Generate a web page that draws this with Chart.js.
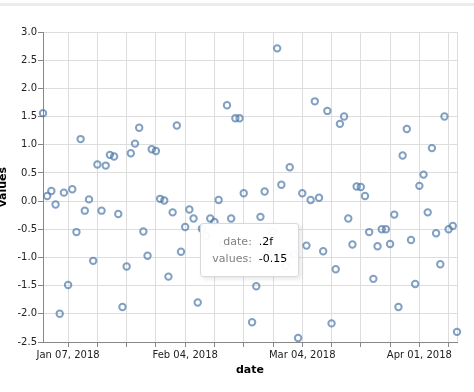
<!DOCTYPE html>
<html>
<head>
<meta charset="utf-8">
<script src="https://cdn.jsdelivr.net/npm/chart.js@4.4.1/dist/chart.umd.min.js"></script>
<style>
  html, body { margin: 0; padding: 0; background: #fff; overflow: hidden; }
  #wrap { position: relative; width: 474px; height: 392px; }
  #topbar { position: absolute; left: 0; top: 3px; width: 474px; height: 3px; background: #ececec; }
  #chart { position: absolute; left: 0; top: 0; }
  #tip {
    display: none; position: absolute; padding: 8px;
    font-family: 'DejaVu Sans', sans-serif; font-size: 11px;
    border-radius: 3px; box-shadow: 2px 2px 4px rgba(0,0,0,0.1);
    background-color: rgba(255,255,255,0.95); border: 1px solid #d9d9d9; color: #000;
  }
  #tip table { border-spacing: 2px; }
  #tip td.key { color: #808080; text-align: right; padding: 1px 4px 1px 1px; }
  #tip td.value { padding: 1px; }
</style>
</head>
<body>
<div id="wrap">
  <div id="topbar"></div>
  <canvas id="chart" width="474" height="392"></canvas>
  <div id="tip"></div>
</div>
<script>
// one value per day, starting Jan 01, 2018 (day index 0)
const values = [
   1.56,  0.09,  0.18, -0.06, -2.00,  0.15, -1.49,  0.21, -0.55,  1.10,
  -0.17,  0.03, -1.06,  0.65, -0.17,  0.63,  0.82,  0.79, -0.23, -1.88,
  -1.16,  0.85,  1.02,  1.30, -0.54, -0.97,  0.92,  0.89,  0.04,  0.01,
  -1.34, -0.20,  1.34, -0.90, -0.46, -0.15, -0.31, -1.80, -0.49, -0.62,
  -0.31, -0.37,  0.02, -0.75,  1.70, -0.31,  1.47,  1.47,  0.14, -1.05,
  -2.15, -1.51, -0.28,  0.17, -0.85, -0.55,  2.71,  0.29, -1.15,  0.60,
  -0.95, -2.43,  0.14, -0.79,  0.02,  1.77,  0.06, -0.89,  1.60, -2.17,
  -1.21,  1.37,  1.50, -0.31, -0.77,  0.26,  0.25,  0.09, -0.55, -1.38,
  -0.80, -0.50, -0.50, -0.76, -0.24, -1.88,  0.81,  1.28, -0.69, -1.47,
   0.27,  0.47, -0.20,  0.94, -0.57, -1.12,  1.50, -0.50, -0.44, -2.32
];
const dayCount = 99; // Jan 01 .. Apr 10

// weekly ticks (Sundays) as day indices, and the labelled ones
const weekTicks = [6, 13, 20, 27, 34, 41, 48, 55, 62, 69, 76, 83, 90, 97];
const labelDays = [6, 34, 62, 90];
const labelText = ['Jan 07, 2018', 'Feb 04, 2018', 'Mar 04, 2018', 'Apr 01, 2018'];

// tooltip shown in the picture
const hoverIndex = 35;
const tipDateText = '.2f';

Chart.defaults.font.family = "'DejaVu Sans', sans-serif";
Chart.defaults.font.size = 10;
Chart.defaults.color = '#222';

const points = values.map((v, i) => ({ x: i, y: v }));

function externalTip(context) {
    const tt = context.tooltip;
    const el = document.getElementById('tip');
    if (tt.opacity === 0 || !tt.dataPoints || !tt.dataPoints.length) {
        el.style.display = 'none';
        return;
    }
    const dp = tt.dataPoints[0];
    el.innerHTML = '<table><tr><td class="key">date:</td><td class="value">' + tipDateText +
        '</td></tr><tr><td class="key">values:</td><td class="value">' + dp.parsed.y.toFixed(2) +
        '</td></tr></table>';
    el.style.display = 'block';
    el.style.left = (tt.caretX + 11) + 'px';
    el.style.top = (tt.caretY + 13) + 'px';
}

// light frame around the plot (top / right edges)
const viewBorder = {
    id: 'viewBorder',
    beforeDraw(chart) {
        const a = chart.chartArea, ctx = chart.ctx;
        ctx.save();
        ctx.strokeStyle = '#ddd';
        ctx.lineWidth = 1;
        ctx.strokeRect(a.left + 0.5, a.top + 0.5, a.right - a.left, a.bottom - a.top);
        ctx.restore();
    }
};

const chart = new Chart(document.getElementById('chart'), {
    type: 'scatter',
    data: {
        datasets: [{
            label: 'values',
            data: points,
            backgroundColor: 'rgba(0,0,0,0)',
            borderColor: 'rgba(76,120,168,0.7)',
            borderWidth: 2,
            pointRadius: 3.2,
            pointHoverRadius: 3.2,
            pointHoverBorderWidth: 2,
            hoverBackgroundColor: 'rgba(0,0,0,0)',
            hoverBorderColor: 'rgba(76,120,168,0.7)',
            clip: false
        }]
    },
    options: {
        responsive: false,
        animation: false,
        layout: { padding: { top: 32, right: 17, bottom: 15, left: 0 } },
        plugins: {
            legend: { display: false },
            tooltip: { enabled: false, external: externalTip }
        },
        events: [],
        scales: {
            x: {
                type: 'linear',
                min: 0,
                max: dayCount,
                afterBuildTicks: (scale) => {
                    scale.ticks = weekTicks.map(v => ({ value: v }));
                },
                afterFit: (scale) => { scale.height = 35; },
                grid: { color: '#ddd', tickColor: '#888', tickLength: 5 },
                border: { color: '#888' },
                ticks: {
                    autoSkip: false,
                    maxRotation: 0,
                    padding: 2,
                    callback: (v) => {
                        const k = labelDays.indexOf(v);
                        return k >= 0 ? labelText[k] : '';
                    }
                },
                title: {
                    display: true,
                    text: 'date',
                    font: { size: 11, weight: 'bold' },
                    color: '#000',
                    padding: { top: 0, bottom: 0 }
                }
            },
            y: {
                min: -2.5,
                max: 3.0,
                afterFit: (scale) => { scale.width = 43; },
                grid: { color: '#ddd', tickColor: '#888', tickLength: 5 },
                border: { color: '#888' },
                ticks: {
                    stepSize: 0.5,
                    padding: 1,
                    callback: (v) => v.toFixed(1)
                },
                title: {
                    display: true,
                    text: 'values',
                    font: { size: 11, weight: 'bold' },
                    color: '#000',
                    padding: { top: -3, bottom: 0 }
                }
            }
        }
    },
    plugins: [viewBorder]
});

chart.tooltip.setActiveElements([{ datasetIndex: 0, index: hoverIndex }], { x: 0, y: 0 });
chart.update();
</script>
</body>
</html>
